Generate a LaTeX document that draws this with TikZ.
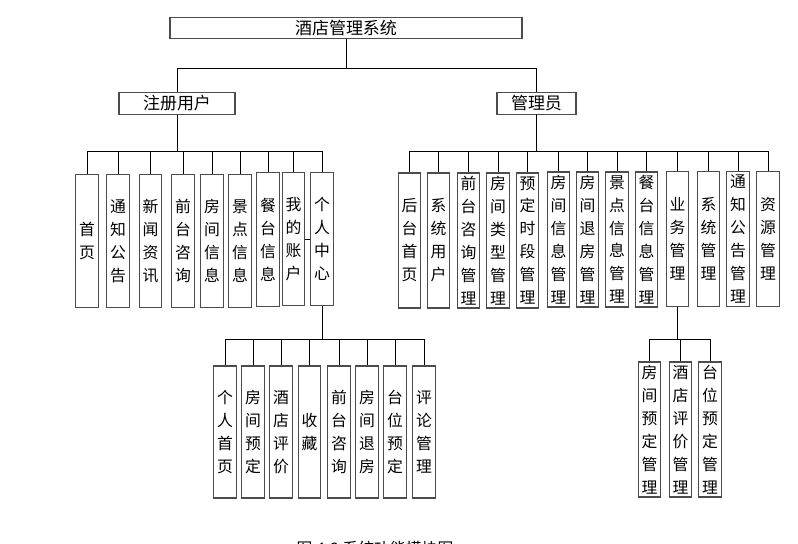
\documentclass[tikz,border=0pt]{standalone}
\usepackage{fontspec}
\setmainfont{Noto Sans CJK SC}
\usetikzlibrary{positioning}

\begin{document}
\begin{tikzpicture}[
  x=0.03cm, y=-0.03cm,
  every node/.style={font=\fontsize{13.5}{19.6}\selectfont, inner sep=0pt},
  caja/.style={draw=black!70, line width=1pt, minimum height=0.64cm, align=center, font=\fontsize{14.5}{16}\selectfont},
  vcaja/.style={draw=black!70, line width=1pt, minimum width=0.68cm, minimum height=4cm, align=center, text width=0.5cm},
  linea/.style={draw=black, line width=0.6pt}
]
\useasboundingbox (0,0) rectangle (798,544);

% Raiz
\node[caja, minimum width=10.56cm] (sistema) at (346,28) {酒店管理系统};

% Roles
\node[caja, minimum width=3.48cm] (usuario) at (177,103.5) {注册用户};
\node[caja, minimum width=2.37cm] (admin) at (536.5,103.5) {管理员};

% Modulos del usuario registrado
\node[vcaja] (shouye) at (87,241) {首\\页};
\node[vcaja] (tongzhi) at (118,241) {通\\知\\公\\告};
\node[vcaja] (xinwen) at (150.5,241) {新\\闻\\资\\讯};
\node[vcaja] (qiantai) at (183,241) {前\\台\\咨\\询};
\node[vcaja] (fangjian) at (212,241) {房\\间\\信\\息};
\node[vcaja] (jingdian) at (240,241) {景\\点\\信\\息};
\node[vcaja] (cantai) at (268,239.5) {餐\\台\\信\\息};
\node[vcaja] (zhanghu) at (293.5,239) {我\\的\\账\\户};
\node[vcaja] (geren) at (322,239) {个\\人\\中\\心};

% Modulos del administrador
\node[vcaja, minimum height=4.05cm] (houtai) at (409.5,240.5) {后\\台\\首\\页};
\node[vcaja, minimum height=4.05cm] (xitongyh) at (438.5,240.5) {系\\统\\用\\户};
\node[vcaja, minimum height=4.05cm] (qtzixun) at (468.5,240.5) {前\\台\\咨\\询\\管\\理};
\node[vcaja, minimum height=4.05cm] (leixing) at (498,240.5) {房\\间\\类\\型\\管\\理};
\node[vcaja, minimum height=4.05cm] (shiduan) at (527.5,240.5) {预\\定\\时\\段\\管\\理};
\node[vcaja, minimum height=4.05cm] (fjxinxi) at (558.5,239.5) {房\\间\\信\\息\\管\\理};
\node[vcaja, minimum height=4.05cm] (tuifang) at (587.5,239.5) {房\\间\\退\\房\\管\\理};
\node[vcaja, minimum height=4.05cm] (jdxinxi) at (617,239.5) {景\\点\\信\\息\\管\\理};
\node[vcaja, minimum height=4.05cm] (ctxinxi) at (646.5,239.5) {餐\\台\\信\\息\\管\\理};
\node[vcaja, minimum height=4.05cm] (yewu) at (677.5,239) {业\\务\\管\\理};
\node[vcaja, minimum height=4.05cm] (xitonggl) at (708.5,239) {系\\统\\管\\理};
\node[vcaja, minimum height=4.05cm] (gonggao) at (738,239) {通\\知\\公\\告\\管\\理};
\node[vcaja, minimum height=4.05cm] (ziyuan) at (768,239) {资\\源\\管\\理};

% Submodulos del centro personal
\node[vcaja, minimum height=3.96cm] (grshouye) at (225,432) {个\\人\\首\\页};
\node[vcaja, minimum height=3.96cm] (yuding) at (253,432) {房\\间\\预\\定};
\node[vcaja, minimum height=3.96cm] (pingjia) at (281,432) {酒\\店\\评\\价};
\node[vcaja, minimum height=3.96cm] (shoucang) at (309.5,432) {收\\藏};
\node[vcaja, minimum height=3.96cm] (grzixun) at (339,432) {前\\台\\咨\\询};
\node[vcaja, minimum height=3.96cm] (grtuifang) at (367,432) {房\\间\\退\\房};
\node[vcaja, minimum height=3.96cm] (taiwei) at (395,432) {台\\位\\预\\定};
\node[vcaja, minimum height=3.96cm] (pinglun) at (424,432) {评\\论\\管\\理};

% Submodulos de gestion de negocio
\node[vcaja, minimum height=4.05cm] (fjyuding) at (649.5,429.5) {房\\间\\预\\定\\管\\理};
\node[vcaja, minimum height=4.05cm] (jdpingjia) at (680.5,429.5) {酒\\店\\评\\价\\管\\理};
\node[vcaja, minimum height=4.05cm] (twyuding) at (710,429.5) {台\\位\\预\\定\\管\\理};

% Pie de figura
\node (titulo) at (375,548) {图 4-2 系统功能模块图};

% Conexiones
\draw[linea] (sistema.south) -- ++(0,29) -| (usuario.north);
\draw[linea] (sistema.south) -- ++(0,29) -| (admin.north);

\draw[linea] (usuario.south) -- ++(0,37) -| (shouye.north);
\draw[linea] (usuario.south) -- ++(0,37) -| (tongzhi.north);
\draw[linea] (usuario.south) -- ++(0,37) -| (xinwen.north);
\draw[linea] (usuario.south) -- ++(0,37) -| (qiantai.north);
\draw[linea] (usuario.south) -- ++(0,37) -| (fangjian.north);
\draw[linea] (usuario.south) -- ++(0,37) -| (jingdian.north);
\draw[linea] (usuario.south) -- ++(0,37) -| (cantai.north);
\draw[linea] (usuario.south) -- ++(0,37) -| (zhanghu.north);
\draw[linea] (usuario.south) -- ++(0,37) -| (geren.north);
\draw[linea] (zhanghu.east) -- (geren.west);

\draw[linea] (admin.south) -- ++(0,37) -| (houtai.north);
\draw[linea] (admin.south) -- ++(0,37) -| (xitongyh.north);
\draw[linea] (admin.south) -- ++(0,37) -| (qtzixun.north);
\draw[linea] (admin.south) -- ++(0,37) -| (leixing.north);
\draw[linea] (admin.south) -- ++(0,37) -| (shiduan.north);
\draw[linea] (admin.south) -- ++(0,37) -| (fjxinxi.north);
\draw[linea] (admin.south) -- ++(0,37) -| (tuifang.north);
\draw[linea] (admin.south) -- ++(0,37) -| (jdxinxi.north);
\draw[linea] (admin.south) -- ++(0,37) -| (ctxinxi.north);
\draw[linea] (admin.south) -- ++(0,37) -| (yewu.north);
\draw[linea] (admin.south) -- ++(0,37) -| (xitonggl.north);
\draw[linea] (admin.south) -- ++(0,37) -| (gonggao.north);
\draw[linea] (admin.south) -- ++(0,37) -| (ziyuan.north);

\draw[linea] (geren.south) -- ++(0,33) -| (grshouye.north);
\draw[linea] (geren.south) -- ++(0,33) -| (yuding.north);
\draw[linea] (geren.south) -- ++(0,33) -| (pingjia.north);
\draw[linea] (geren.south) -- ++(0,33) -| (shoucang.north);
\draw[linea] (geren.south) -- ++(0,33) -| (grzixun.north);
\draw[linea] (geren.south) -- ++(0,33) -| (grtuifang.north);
\draw[linea] (geren.south) -- ++(0,33) -| (taiwei.north);
\draw[linea] (geren.south) -- ++(0,33) -| (pinglun.north);

\draw[linea] (yewu.south) -- ++(0,32) -| (fjyuding.north);
\draw[linea] (yewu.south) -- ++(0,32) -| (jdpingjia.north);
\draw[linea] (yewu.south) -- ++(0,32) -| (twyuding.north);

\end{tikzpicture}
\end{document}
